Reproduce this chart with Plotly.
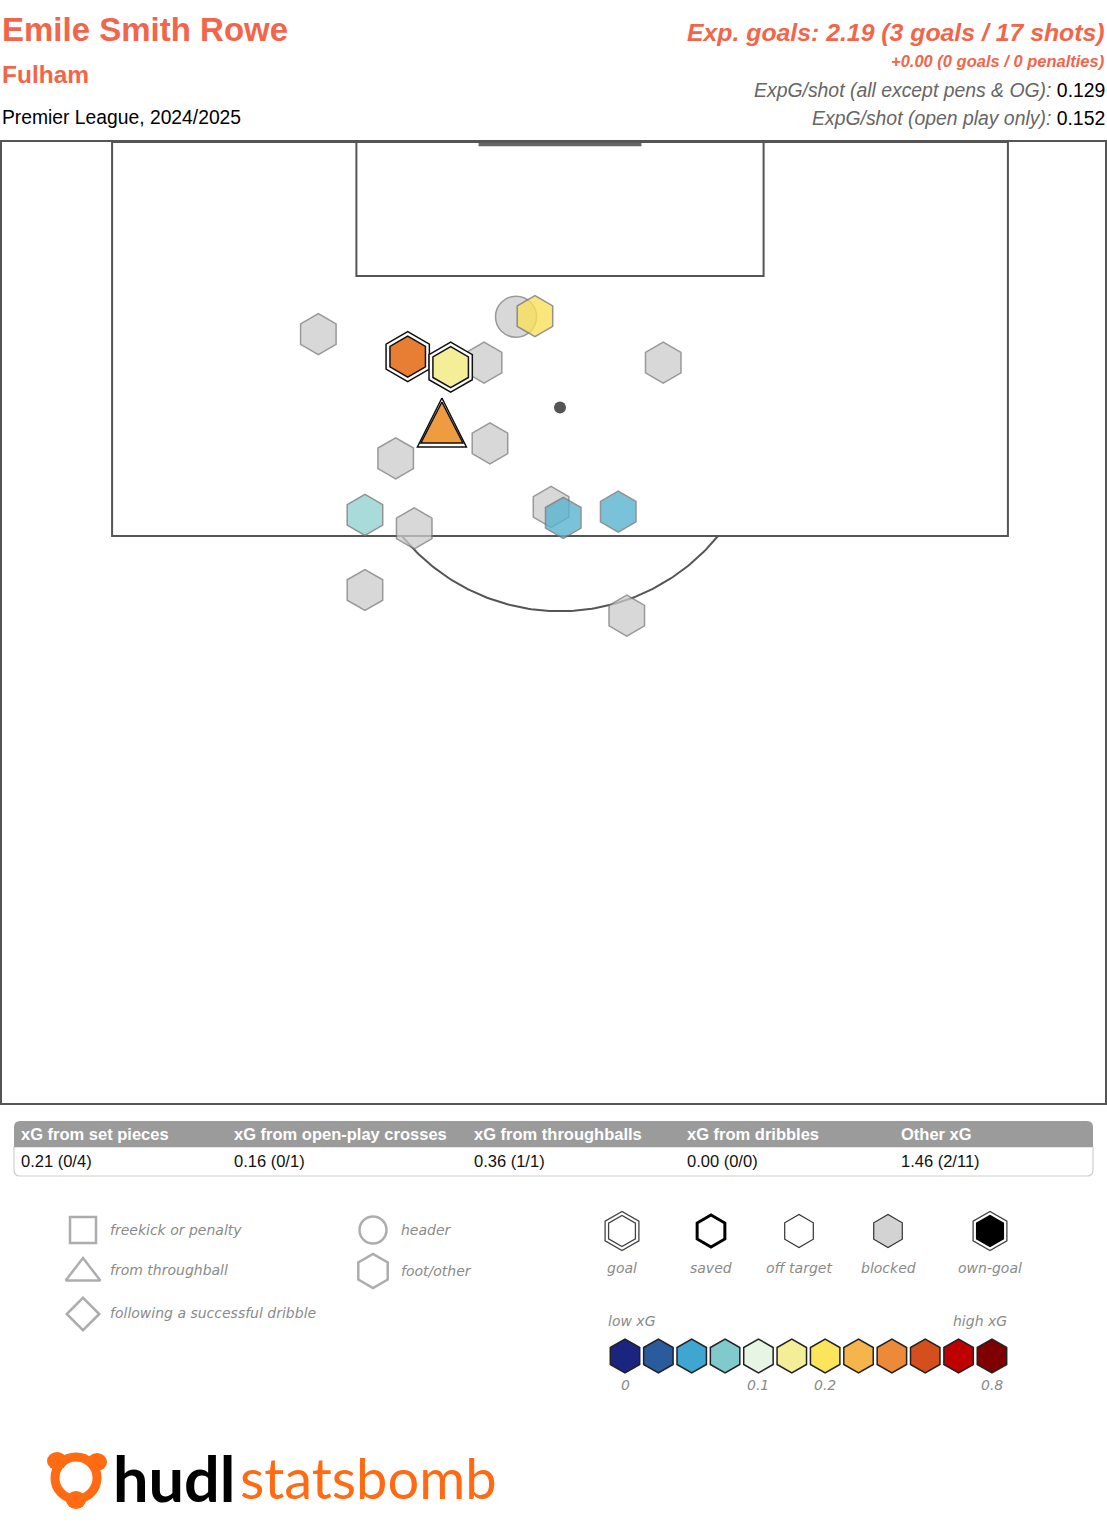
import numpy as np
import plotly.graph_objects as go

W, H = 1107, 1536

# ------------------------------------------------------------------ data
player_name = "Emile Smith Rowe"
team_name = "Fulham"
competition = "Premier League, 2024/2025"
total_xg = 2.19
total_goals = 3
total_shots = 17
penalty_xg = 0.00
penalty_goals = 0
penalties = 0
xg_per_shot_np = 0.129
xg_per_shot_op = 0.152

# pitch coordinates: x across the pitch (StatsBomb width units), y = distance from goal line
shot_x = [28.13, 37.84, 36.27, 45.07, 36.56, 31.93, 32.84, 39.56, 30.42, 43.28,
          38.77, 30.42, 40.16, 42.86,
          32.52, 34.63, 34.20]
shot_y = [8.75, 7.96, 10.05, 10.05, 13.73, 14.41, 17.60, 16.62, 20.41, 21.58,
          7.93, 16.99, 17.12, 16.84,
          9.78, 10.26, 12.78]
shot_xg = [0.05, 0.16, 0.14, 0.08, 0.12, 0.07, 0.05, 0.06, 0.04, 0.08,
           0.21, 0.08, 0.06, 0.06,
           0.42, 0.15, 0.36]
shot_outcome = ["blocked", "blocked", "blocked", "blocked", "blocked", "blocked",
                "blocked", "blocked", "blocked", "blocked",
                "off target", "off target", "off target", "off target",
                "goal", "goal", "goal"]
shot_body = ["foot", "head", "foot", "foot", "foot", "foot", "foot", "foot", "foot",
             "foot", "foot", "foot", "foot", "foot", "foot", "foot", "foot"]
shot_pattern = ["other", "other", "other", "other", "other", "other", "other", "other",
                "other", "other", "other", "other", "other", "other", "other", "other",
                "throughball"]

table_headers = ["xG from set pieces", "xG from open-play crosses", "xG from throughballs",
                 "xG from dribbles", "Other xG"]
table_xg = [0.21, 0.16, 0.36, 0.00, 1.46]
table_goals = [0, 0, 1, 0, 2]
table_shots = [4, 1, 1, 0, 11]

xg_bins = [0, 0.025, 0.05, 0.075, 0.1, 0.15, 0.2, 0.3, 0.4, 0.5, 0.65, 0.8]
xg_colors = ["#1b2580", "#2a5b9c", "#3ea6d1", "#80cace", "#e6f5e4", "#f4ee98",
             "#fbe55d", "#f4b54a", "#ec8a3a", "#d44f1c", "#bf0000", "#7e0000"]
xg_tick_labels = ["0", "", "", "", "0.1", "", "0.2", "", "", "", "", "0.8"]

shape_legend_left = ["freekick or penalty", "from throughball", "following a successful dribble"]
shape_legend_right = ["header", "foot/other"]
outcome_legend = ["goal", "saved", "off target", "blocked", "own-goal"]

# ------------------------------------------------------------------ geometry / style
SX = 20.36   # px per pitch unit (across)
SY = 21.95   # px per pitch unit (depth)
FRAME_L, FRAME_R, FRAME_T, FRAME_B = 2, 1105, 142, 1103
CENTER_PX = 560
BOX_DEPTH, SIX_DEPTH, SPOT_DIST = 17.95, 6.1, 12.1
LINE = "#555555"
TITLE_C = "#f3654a"
SANS = "Liberation Sans, Arial, sans-serif"
VERD = "DejaVu Sans, Verdana, sans-serif"
LEG_C = "#8a8a8a"


def _rgb(h):
    return [int(h[k:k + 2], 16) for k in (1, 3, 5)]


def xg_color(v):
    if v >= xg_bins[-1]:
        return xg_colors[-1]
    for i in range(len(xg_bins) - 1):
        if xg_bins[i] <= v < xg_bins[i + 1]:
            f = (v - xg_bins[i]) / (xg_bins[i + 1] - xg_bins[i])
            a, b = _rgb(xg_colors[i]), _rgb(xg_colors[i + 1])
            c = [round(a[j] + (b[j] - a[j]) * f) for j in range(3)]
            return "#%02x%02x%02x" % tuple(c)
    return xg_colors[0]


fig = go.Figure()

# ------------------------------------------------------------------ pitch
x_range = [40 - (CENTER_PX - FRAME_L) / SX, 40 + (FRAME_R - CENTER_PX) / SX]
y_range = [(FRAME_B - FRAME_T) / SY, 0]

shapes = []
shapes.append(dict(type="rect", xref="x", yref="y", x0=18, x1=62, y0=0, y1=BOX_DEPTH,
                   line=dict(color=LINE, width=2), layer="below"))
shapes.append(dict(type="rect", xref="x", yref="y", x0=30, x1=50, y0=0, y1=SIX_DEPTH,
                   line=dict(color=LINE, width=2), layer="below"))
shapes.append(dict(type="line", xref="x", yref="y", x0=36, x1=44, y0=0.11, y1=0.11,
                   line=dict(color="#666666", width=3.5), layer="below"))

# penalty arc (true circle in screen space)
r_px = 10 * SX
ry = r_px / SY
t0 = np.arcsin((BOX_DEPTH - SPOT_DIST) / ry)
tt = np.linspace(t0, np.pi - t0, 120)
fig.add_trace(go.Scatter(x=40 + 10 * np.cos(tt), y=SPOT_DIST + ry * np.sin(tt), mode="lines",
                         line=dict(color=LINE, width=2), hoverinfo="skip", xaxis="x", yaxis="y"))
fig.add_trace(go.Scatter(x=[40], y=[SPOT_DIST], mode="markers",
                         marker=dict(size=12, color=LINE), hoverinfo="skip"))

# ------------------------------------------------------------------ shots
idx_all = list(range(len(shot_x)))


def sym(i):
    return "circle" if shot_body[i] == "head" else "hexagon"


# blocked
ib = [i for i in idx_all if shot_outcome[i] == "blocked"]
fig.add_trace(go.Scatter(
    x=[shot_x[i] for i in ib], y=[shot_y[i] for i in ib], mode="markers",
    marker=dict(symbol=[sym(i) for i in ib], size=41, color="#cccccc", opacity=0.75,
                line=dict(color="#777777", width=1.5)),
    text=[f"xG {shot_xg[i]:.2f}" for i in ib], hoverinfo="text"))

# off target
io = [i for i in idx_all if shot_outcome[i] == "off target"]
fig.add_trace(go.Scatter(
    x=[shot_x[i] for i in io], y=[shot_y[i] for i in io], mode="markers",
    marker=dict(symbol=[sym(i) for i in io], size=41, color=[xg_color(shot_xg[i]) for i in io],
                opacity=0.8, line=dict(color="#777777", width=1.5)),
    text=[f"xG {shot_xg[i]:.2f}" for i in io], hoverinfo="text"))

# goals (marker-shaped)
ig = [i for i in idx_all if shot_outcome[i] == "goal" and shot_pattern[i] != "throughball"]
fig.add_trace(go.Scatter(
    x=[shot_x[i] for i in ig], y=[shot_y[i] for i in ig], mode="markers",
    marker=dict(symbol=[sym(i) for i in ig], size=50, color="white",
                line=dict(color="#111111", width=1.5)), hoverinfo="skip"))
fig.add_trace(go.Scatter(
    x=[shot_x[i] for i in ig], y=[shot_y[i] for i in ig], mode="markers",
    marker=dict(symbol=[sym(i) for i in ig], size=41, color=[xg_color(shot_xg[i]) for i in ig],
                line=dict(color="#111111", width=1.5)),
    text=[f"xG {shot_xg[i]:.2f}" for i in ig], hoverinfo="text"))

# throughball shots: triangle drawn around the shot location
it = [i for i in idx_all if shot_pattern[i] == "throughball"]
for i in it:
    cx, cy = shot_x[i], shot_y[i]
    for half_w, half_h, fill in [(24.5, 24.5, "white"), (21, 20.5, xg_color(shot_xg[i]))]:
        fig.add_trace(go.Scatter(
            x=[cx, cx + half_w / SX, cx - half_w / SX, cx],
            y=[cy - half_h / SY, cy + half_h / SY, cy + half_h / SY, cy - half_h / SY],
            mode="lines", fill="toself", fillcolor=fill,
            line=dict(color="#111111", width=1.5), hoverinfo="skip"))

# ------------------------------------------------------------------ overlay (pixel) axis helpers
def ann(text, x, y, size, color="#000000", xanchor="left", family=SANS, yanchor="middle"):
    return dict(text=text, x=x, y=y, xref="x2", yref="y2", showarrow=False,
                xanchor=xanchor, yanchor=yanchor, font=dict(size=size, color=color, family=family))


annotations = []
# header left
annotations.append(ann(f"<b>{player_name}</b>", 0, 29.5, 33, TITLE_C))
annotations.append(ann(f"<b>{team_name}</b>", 0, 74.3, 24.5, TITLE_C))
annotations.append(ann(competition, 0, 117, 19.3, "#000000"))
# header right
annotations.append(ann(f"<b><i>Exp. goals: {total_xg:.2f} ({total_goals} goals / {total_shots} shots)</i></b>",
                       1107, 32.3, 24.8, TITLE_C, "right"))
annotations.append(ann(f"<b><i>+{penalty_xg:.2f} ({penalty_goals} goals / {penalties} penalties)</i></b>",
                       1107, 60.6, 16.5, TITLE_C, "right"))
annotations.append(ann(f"<i>ExpG/shot (all except pens &amp; OG):</i> <span style='color:#000000'>{xg_per_shot_np:.3f}</span>",
                       1107, 90.4, 19.4, "#666666", "right"))
annotations.append(ann(f"<i>ExpG/shot (open play only):</i> <span style='color:#000000'>{xg_per_shot_op:.3f}</span>",
                       1107, 118.4, 19.4, "#666666", "right"))

# table
TBL_L, TBL_R, TBL_T, TBL_M, TBL_B, RAD = 14, 1093, 1121, 1147, 1176, 6
table_col_px = [19, 232, 472, 685, 899]
shapes.append(dict(type="path", xref="x2", yref="y2",
                   path=(f"M{TBL_L},{TBL_M} L{TBL_L},{TBL_B-RAD} Q{TBL_L},{TBL_B} {TBL_L+RAD},{TBL_B} "
                         f"L{TBL_R-RAD},{TBL_B} Q{TBL_R},{TBL_B} {TBL_R},{TBL_B-RAD} L{TBL_R},{TBL_M} Z"),
                   fillcolor="white", line=dict(color="#cfcfcf", width=1.2)))
shapes.append(dict(type="path", xref="x2", yref="y2",
                   path=(f"M{TBL_L},{TBL_M} L{TBL_L},{TBL_T+RAD} Q{TBL_L},{TBL_T} {TBL_L+RAD},{TBL_T} "
                         f"L{TBL_R-RAD},{TBL_T} Q{TBL_R},{TBL_T} {TBL_R},{TBL_T+RAD} L{TBL_R},{TBL_M} Z"),
                   fillcolor="#9b9b9b", line=dict(width=0)))
for k, head in enumerate(table_headers):
    annotations.append(ann(f"<b>{head}</b>", table_col_px[k], 1134, 16.5, "white"))
    annotations.append(ann(f"{table_xg[k]:.2f} ({table_goals[k]}/{table_shots[k]})",
                           table_col_px[k], 1160.5, 16.5, "#111111"))

# shape legend
left_sym = ["square-open", "triangle-up-open", "diamond-open"]
left_size = [26, 30, 25]
left_y = [1230, 1270, 1313]
left_marker_y = [1230, 1273, 1314]
fig.add_trace(go.Scatter(x=[83] * 3, y=left_marker_y, mode="markers", xaxis="x2", yaxis="y2",
                         marker=dict(symbol=left_sym, size=left_size, color=LEG_C,
                                     line=dict(color=LEG_C, width=2.5)), hoverinfo="skip"))
for k, lab in enumerate(shape_legend_left):
    annotations.append(ann(f"<i>{lab}</i>", 108, left_y[k], 14, LEG_C, family=VERD))
right_sym = ["circle-open", "hexagon-open"]
right_size = [27, 34]
right_y = [1230, 1271]
fig.add_trace(go.Scatter(x=[373] * 2, y=right_y, mode="markers", xaxis="x2", yaxis="y2",
                         marker=dict(symbol=right_sym, size=right_size, color=LEG_C,
                                     line=dict(color=LEG_C, width=2.5)), hoverinfo="skip"))
for k, lab in enumerate(shape_legend_right):
    annotations.append(ann(f"<i>{lab}</i>", 399, right_y[k], 14, LEG_C, family=VERD))

# outcome legend
out_x = [622, 711, 799, 888, 990]
OUT_Y = 1231
fig.add_trace(go.Scatter(x=[out_x[0], out_x[4]], y=[OUT_Y, OUT_Y], mode="markers", xaxis="x2", yaxis="y2",
                         marker=dict(symbol="hexagon", size=39, color="white",
                                     line=dict(color="#444444", width=1.3)), hoverinfo="skip"))
fig.add_trace(go.Scatter(x=[out_x[0], out_x[4]], y=[OUT_Y, OUT_Y], mode="markers", xaxis="x2", yaxis="y2",
                         marker=dict(symbol="hexagon", size=31, color=["white", "black"],
                                     line=dict(color=["#444444", "black"], width=1.3)), hoverinfo="skip"))
fig.add_trace(go.Scatter(x=[out_x[1]], y=[OUT_Y], mode="markers", xaxis="x2", yaxis="y2",
                         marker=dict(symbol="hexagon", size=32, color="white",
                                     line=dict(color="black", width=3)), hoverinfo="skip"))
fig.add_trace(go.Scatter(x=[out_x[2], out_x[3]], y=[OUT_Y, OUT_Y], mode="markers", xaxis="x2", yaxis="y2",
                         marker=dict(symbol="hexagon", size=33, color=["white", "#d3d3d3"],
                                     line=dict(color="#333333", width=1.2)), hoverinfo="skip"))
for k, lab in enumerate(outcome_legend):
    annotations.append(ann(f"<i>{lab}</i>", out_x[k], 1268, 14, LEG_C, "center", VERD))

# xG colour scale
scale_x = [625 + k * 33.36 for k in range(len(xg_colors))]
fig.add_trace(go.Scatter(x=scale_x, y=[1356] * len(scale_x), mode="markers", xaxis="x2", yaxis="y2",
                         marker=dict(symbol="hexagon", size=34, color=xg_colors,
                                     line=dict(color="#222222", width=1.5)), hoverinfo="skip"))
annotations.append(ann("<i>low xG</i>", 606, 1321, 14, LEG_C, family=VERD))
annotations.append(ann("<i>high xG</i>", 1009, 1321, 14, LEG_C, "right", VERD))
for k, lab in enumerate(xg_tick_labels):
    if lab:
        annotations.append(ann(f"<i>{lab}</i>", scale_x[k], 1385, 14, LEG_C, "center", VERD))

# logo
ORANGE = "#ff6a13"
shapes.append(dict(type="circle", xref="x2", yref="y2", x0=55, x1=97, y0=1457, y1=1499,
                   line=dict(color=ORANGE, width=9)))
for bx, by in [(57, 1461), (97, 1462), (76, 1500)]:
    shapes.append(dict(type="circle", xref="x2", yref="y2", x0=bx - 10, x1=bx + 10, y0=by - 9, y1=by + 9,
                       fillcolor=ORANGE, line=dict(width=0)))
annotations.append(ann("<b>hudl</b>", 111, 1477, 63, "#000000", family="Lato, sans-serif"))
annotations.append(ann("statsbomb", 238, 1477, 56, ORANGE, family="Lato, sans-serif"))

# ------------------------------------------------------------------ layout
axis_common = dict(showgrid=False, zeroline=False, showticklabels=False, ticks="")
fig.update_layout(
    width=W, height=H, margin=dict(l=0, r=0, t=0, b=0),
    paper_bgcolor="white", plot_bgcolor="rgba(0,0,0,0)", showlegend=False,
    xaxis=dict(domain=[FRAME_L / W, FRAME_R / W], range=x_range, showline=True, mirror=True,
               linecolor=LINE, linewidth=2, **axis_common),
    yaxis=dict(domain=[1 - FRAME_B / H, 1 - FRAME_T / H], range=y_range, showline=True, mirror=True,
               linecolor=LINE, linewidth=2, **axis_common),
    xaxis2=dict(domain=[0, 1], range=[0, W], visible=False, anchor="y2"),
    yaxis2=dict(domain=[0, 1], range=[H, 0], visible=False, anchor="x2"),
    shapes=shapes, annotations=annotations,
)

fig.write_html("out.html", config={"displayModeBar": False},
               post_script="document.body.style.margin='0';document.body.style.overflow='hidden';")
